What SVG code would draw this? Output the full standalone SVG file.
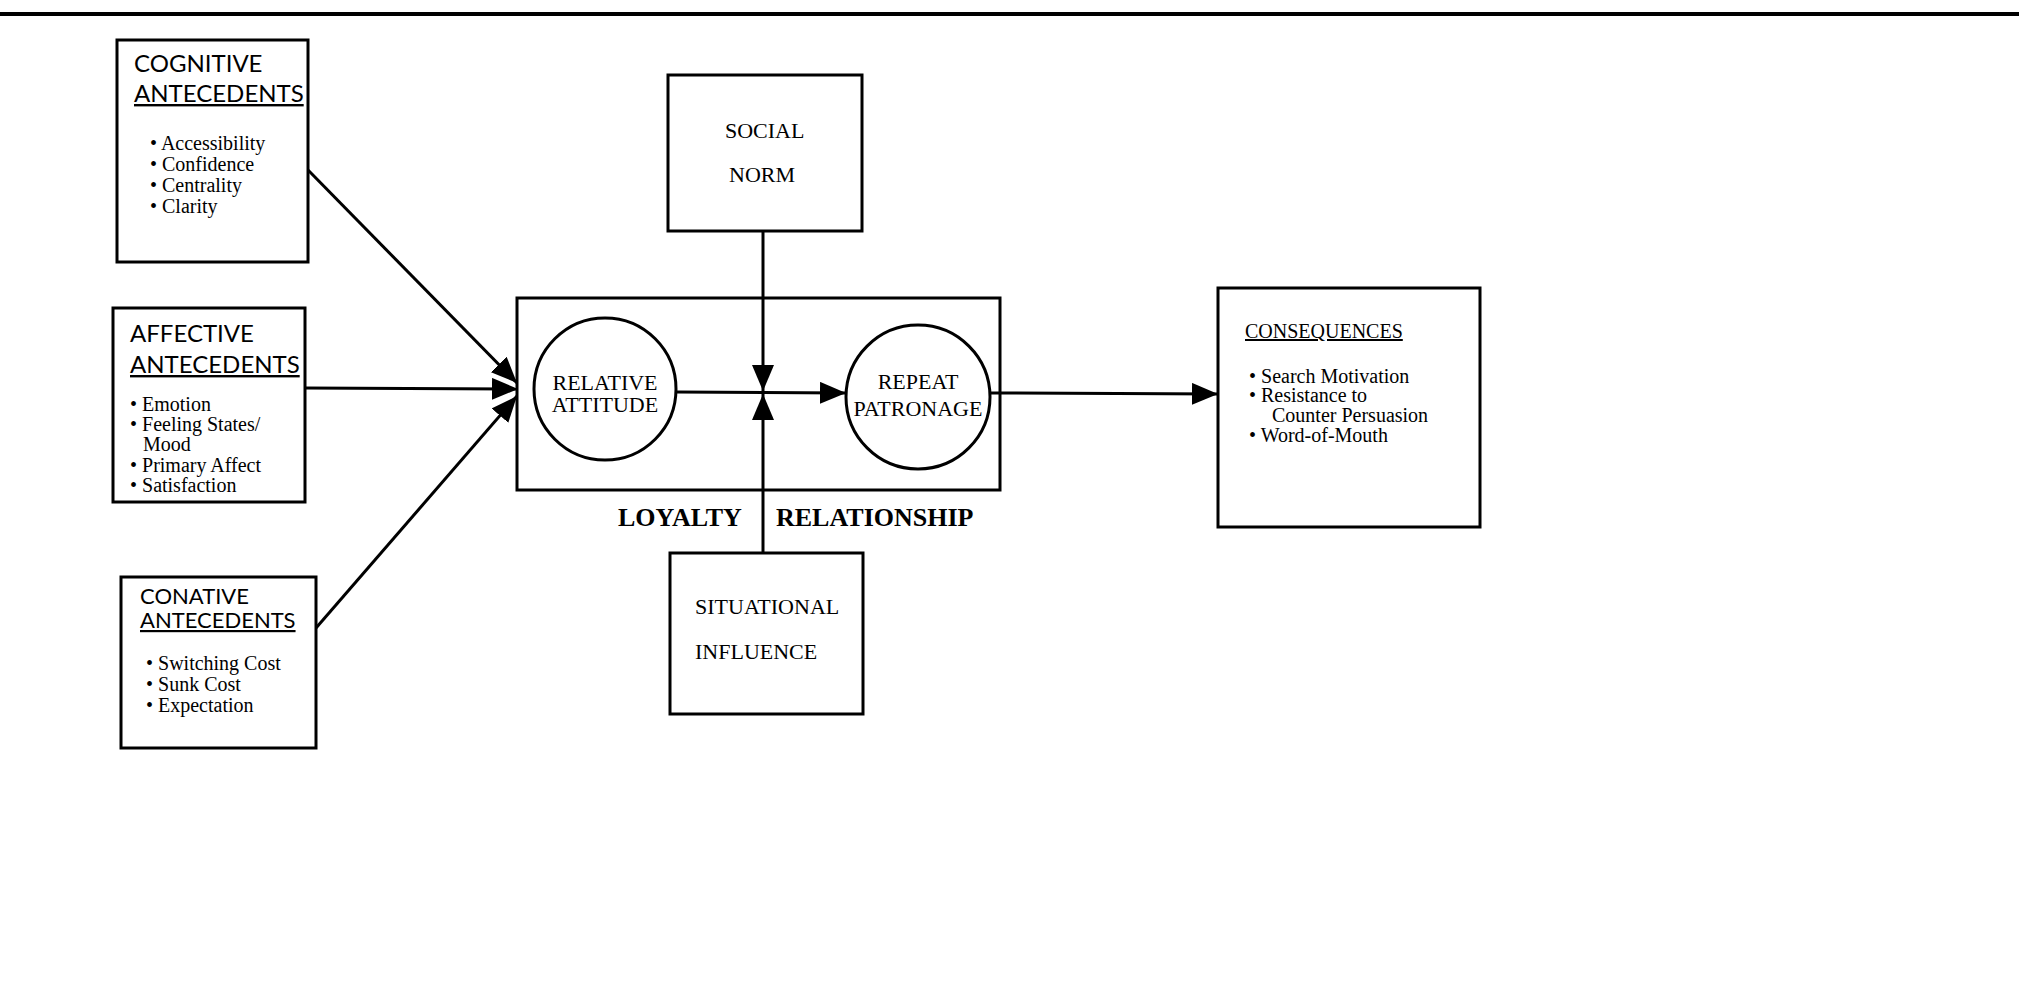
<svg xmlns="http://www.w3.org/2000/svg" width="2019" height="993" viewBox="0 0 2019 993">
<defs>
<marker id="big" viewBox="0 0 10 10" refX="10" refY="5" markerWidth="26" markerHeight="22" markerUnits="userSpaceOnUse" orient="auto" preserveAspectRatio="none">
<path d="M0,0 L10,5 L0,10 z" fill="#000"/>
</marker>
</defs>
<style>
.box{fill:#fff;stroke:#000;stroke-width:3}
.frame{fill:none;stroke:#000;stroke-width:3}
.ln{stroke:#000;stroke-width:3;fill:none}
.hd{font-family:Lato,"Open Sans",sans-serif;font-size:24px;fill:#000}
.u{text-decoration:underline}
.it{font-family:"Liberation Serif",serif;font-size:20px;fill:#000}
.tm{font-family:"Liberation Serif",serif;font-size:22px;fill:#000}
.lb{font-family:"Liberation Serif",serif;font-size:26px;font-weight:bold;fill:#000}
</style>
<rect width="2019" height="993" fill="#fff"/>
<line x1="0" y1="14" x2="2019" y2="14" stroke="#000" stroke-width="4"/>
<g id="loyalty">
<rect class="frame" x="517" y="298" width="483" height="192"/>
<text class="lb" x="618" y="526">LOYALTY</text>
<text class="lb" x="776" y="526">RELATIONSHIP</text>
</g>
<g id="connectors">
<line class="ln" x1="308" y1="170" x2="517" y2="383" marker-end="url(#big)"/>
<line class="ln" x1="305" y1="388" x2="518" y2="389" marker-end="url(#big)"/>
<line class="ln" x1="316" y1="628" x2="517" y2="396" marker-end="url(#big)"/>
<line class="ln" x1="677" y1="392" x2="846" y2="393" marker-end="url(#big)"/>
<line class="ln" x1="763" y1="231" x2="763" y2="391" marker-end="url(#big)"/>
<line class="ln" x1="763" y1="553" x2="763" y2="394" marker-end="url(#big)"/>
<line class="ln" x1="990" y1="393" x2="1218" y2="394" marker-end="url(#big)"/>
</g>
<g id="cognitive">
<rect class="box" x="117" y="40" width="191" height="222"/>
<text class="hd" x="134" y="72">COGNITIVE</text>
<text class="hd u" x="134" y="102">ANTECEDENTS</text>
<text class="it" x="150" y="150">• Accessibility</text>
<text class="it" x="150" y="171">• Confidence</text>
<text class="it" x="150" y="192">• Centrality</text>
<text class="it" x="150" y="213">• Clarity</text>
</g>
<g id="affective">
<rect class="box" x="113" y="308" width="192" height="194"/>
<text class="hd" x="130" y="342">AFFECTIVE</text>
<text class="hd u" x="130" y="373">ANTECEDENTS</text>
<text class="it" x="130" y="411">• Emotion</text>
<text class="it" x="130" y="431">• Feeling States/</text>
<text class="it" x="143" y="451">Mood</text>
<text class="it" x="130" y="472">• Primary Affect</text>
<text class="it" x="130" y="492">• Satisfaction</text>
</g>
<g id="conative">
<rect class="box" x="121" y="577" width="195" height="171"/>
<text class="hd" x="140" y="604" style="font-size:22px">CONATIVE</text>
<text class="hd u" x="140" y="628" style="font-size:22px">ANTECEDENTS</text>
<text class="it" x="146" y="670">• Switching  Cost</text>
<text class="it" x="146" y="691">• Sunk  Cost</text>
<text class="it" x="146" y="712">• Expectation</text>
</g>
<g id="social-norm">
<rect class="box" x="668" y="75" width="194" height="156"/>
<text class="tm" x="725" y="138">SOCIAL</text>
<text class="tm" x="729" y="182">NORM</text>
</g>
<g id="relative-attitude">
<circle class="box" cx="605" cy="389" r="71"/>
<text class="tm" x="605" y="390" text-anchor="middle">RELATIVE</text>
<text class="tm" x="605" y="412" text-anchor="middle">ATTITUDE</text>
</g>
<g id="repeat-patronage">
<circle class="box" cx="918" cy="397" r="72"/>
<text class="tm" x="918" y="389" text-anchor="middle">REPEAT</text>
<text class="tm" x="918" y="416" text-anchor="middle">PATRONAGE</text>
</g>
<g id="situational">
<rect class="box" x="670" y="553" width="193" height="161"/>
<text class="tm" x="695" y="614">SITUATIONAL</text>
<text class="tm" x="695" y="659">INFLUENCE</text>
</g>
<g id="consequences">
<rect class="box" x="1218" y="288" width="262" height="239"/>
<text class="tm u" x="1245" y="338" style="font-size:20px">CONSEQUENCES</text>
<text class="it" x="1249" y="383">• Search Motivation</text>
<text class="it" x="1249" y="402">• Resistance to</text>
<text class="it" x="1272" y="422">Counter Persuasion</text>
<text class="it" x="1249" y="442">• Word-of-Mouth</text>
</g>
</svg>
